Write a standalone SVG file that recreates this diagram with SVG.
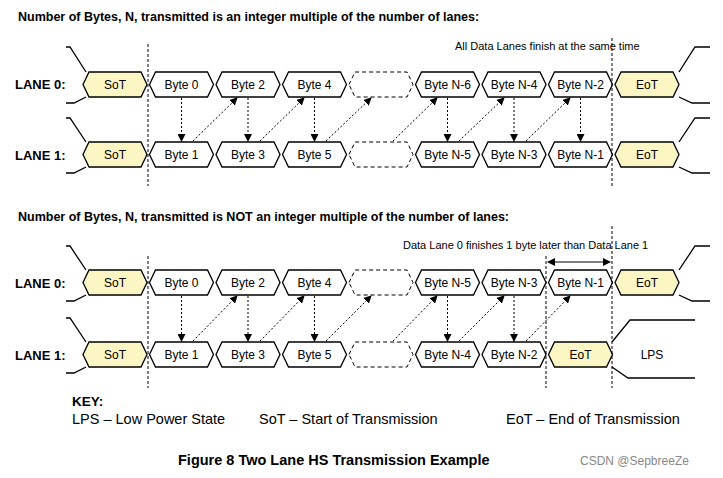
<svg xmlns="http://www.w3.org/2000/svg" width="723" height="478" viewBox="0 0 723 478">
<defs>
<style>
text{font-family:"Liberation Sans",Arial,sans-serif;font-size:12px;fill:#000}
.b{font-weight:bold}
.c{text-anchor:middle}
.box{fill:#fff;stroke:#000;stroke-width:1.3}
.y{fill:#fbf6c4}
.dsh{fill:#fff;stroke:#000;stroke-width:1;stroke-dasharray:4,3}
.ln{fill:none;stroke:#000;stroke-width:1.3}
.dv{stroke:#000;stroke-width:1;stroke-dasharray:3,2;fill:none}
.ar{stroke:#000;stroke-width:1;stroke-dasharray:2,2;fill:none;marker-end:url(#ah)}
</style>
<marker id="ah" markerWidth="8" markerHeight="8" refX="7" refY="4" orient="auto" markerUnits="userSpaceOnUse"><path d="M0,0L8,4L0,8z" fill="#000"/></marker>
<marker id="ah2" markerWidth="8" markerHeight="8" refX="7" refY="4" orient="auto-start-reverse" markerUnits="userSpaceOnUse"><path d="M0,0L8,4L0,8z" fill="#000"/></marker>
</defs>
<text x="18" y="21" class="b" style="font-size:12.5px">Number of Bytes, N, transmitted is an integer multiple of the number of lanes:</text>
<text x="455" y="50" style="font-size:11px">All Data Lanes finish at the same time</text>
<text x="18" y="221" class="b" style="font-size:12.5px">Number of Bytes, N, transmitted is NOT an integer multiple of the number of lanes:</text>
<text x="403" y="249" style="font-size:11px">Data Lane 0 finishes 1 byte later than Data Lane 1</text>
<text x="15" y="89" class="b" style="font-size:13px">LANE 0:</text>
<text x="15" y="160" class="b" style="font-size:13px">LANE 1:</text>
<text x="15" y="288" class="b" style="font-size:13px">LANE 0:</text>
<text x="15" y="360" class="b" style="font-size:13px">LANE 1:</text>

<g id="lines">
<path class="ln" d="M66,47H70L86,72M86,97L74,103H66"/>
<path class="ln" d="M66,118H70L86,142M86,167L74,173H66"/>
<path class="ln" d="M679,72L695,47H710M679,97L692,103H710"/>
<path class="ln" d="M679,142L695,118H710M679,167L692,173H710"/>
<path class="ln" d="M66,246H70L86,270M86,295L74,301H66"/>
<path class="ln" d="M66,318H70L86,342M86,367L74,373H66"/>
<path class="ln" d="M679,270L695,246H710M679,295L692,301H710"/>
<path class="ln" d="M612,342L630,320H695M612,367L628,378H695"/>
</g>

<g id="top-lane0">
<g id="t0-sot"><path class="box y" d="M83,84.5L89,72H141L147,84.5L141,97H89Z"/><text x="115" y="89" class="c">SoT</text></g>
<g id="t0-b0"><path class="box" d="M149.5,84.5L155.5,72H207.5L213.5,84.5L207.5,97H155.5Z"/><text x="181.5" y="89" class="c">Byte 0</text></g>
<g id="t0-b2"><path class="box" d="M216,84.5L222,72H274L280,84.5L274,97H222Z"/><text x="248" y="89" class="c">Byte 2</text></g>
<g id="t0-b4"><path class="box" d="M282.5,84.5L288.5,72H340.5L346.5,84.5L340.5,97H288.5Z"/><text x="314.5" y="89" class="c">Byte 4</text></g>
<g id="t0-d"><path class="dsh" d="M349,84.5L355,72H407L413,84.5L407,97H355Z"/></g>
<g id="t0-n6"><path class="box" d="M415.5,84.5L421.5,72H473.5L479.5,84.5L473.5,97H421.5Z"/><text x="447.5" y="89" class="c">Byte N-6</text></g>
<g id="t0-n4"><path class="box" d="M482,84.5L488,72H540L546,84.5L540,97H488Z"/><text x="514" y="89" class="c">Byte N-4</text></g>
<g id="t0-n2"><path class="box" d="M548.5,84.5L554.5,72H606.5L612.5,84.5L606.5,97H554.5Z"/><text x="580.5" y="89" class="c">Byte N-2</text></g>
<g id="t0-eot"><path class="box y" d="M615,84.5L621,72H673L679,84.5L673,97H621Z"/><text x="647" y="89" class="c">EoT</text></g>
</g>

<g id="top-lane1">
<g id="t1-sot"><path class="box y" d="M83,154.5L89,142H141L147,154.5L141,167H89Z"/><text x="115" y="159" class="c">SoT</text></g>
<g id="t1-b1"><path class="box" d="M149.5,154.5L155.5,142H207.5L213.5,154.5L207.5,167H155.5Z"/><text x="181.5" y="159" class="c">Byte 1</text></g>
<g id="t1-b3"><path class="box" d="M216,154.5L222,142H274L280,154.5L274,167H222Z"/><text x="248" y="159" class="c">Byte 3</text></g>
<g id="t1-b5"><path class="box" d="M282.5,154.5L288.5,142H340.5L346.5,154.5L340.5,167H288.5Z"/><text x="314.5" y="159" class="c">Byte 5</text></g>
<g id="t1-d"><path class="dsh" d="M349,154.5L355,142H407L413,154.5L407,167H355Z"/></g>
<g id="t1-n5"><path class="box" d="M415.5,154.5L421.5,142H473.5L479.5,154.5L473.5,167H421.5Z"/><text x="447.5" y="159" class="c">Byte N-5</text></g>
<g id="t1-n3"><path class="box" d="M482,154.5L488,142H540L546,154.5L540,167H488Z"/><text x="514" y="159" class="c">Byte N-3</text></g>
<g id="t1-n1"><path class="box" d="M548.5,154.5L554.5,142H606.5L612.5,154.5L606.5,167H554.5Z"/><text x="580.5" y="159" class="c">Byte N-1</text></g>
<g id="t1-eot"><path class="box y" d="M615,154.5L621,142H673L679,154.5L673,167H621Z"/><text x="647" y="159" class="c">EoT</text></g>
</g>

<g id="bot-lane0">
<g id="b0-sot"><path class="box y" d="M83,282.5L89,270H141L147,282.5L141,295H89Z"/><text x="115" y="287" class="c">SoT</text></g>
<g id="b0-b0"><path class="box" d="M149.5,282.5L155.5,270H207.5L213.5,282.5L207.5,295H155.5Z"/><text x="181.5" y="287" class="c">Byte 0</text></g>
<g id="b0-b2"><path class="box" d="M216,282.5L222,270H274L280,282.5L274,295H222Z"/><text x="248" y="287" class="c">Byte 2</text></g>
<g id="b0-b4"><path class="box" d="M282.5,282.5L288.5,270H340.5L346.5,282.5L340.5,295H288.5Z"/><text x="314.5" y="287" class="c">Byte 4</text></g>
<g id="b0-d"><path class="dsh" d="M349,282.5L355,270H407L413,282.5L407,295H355Z"/></g>
<g id="b0-n5"><path class="box" d="M415.5,282.5L421.5,270H473.5L479.5,282.5L473.5,295H421.5Z"/><text x="447.5" y="287" class="c">Byte N-5</text></g>
<g id="b0-n3"><path class="box" d="M482,282.5L488,270H540L546,282.5L540,295H488Z"/><text x="514" y="287" class="c">Byte N-3</text></g>
<g id="b0-n1"><path class="box" d="M548.5,282.5L554.5,270H606.5L612.5,282.5L606.5,295H554.5Z"/><text x="580.5" y="287" class="c">Byte N-1</text></g>
<g id="b0-eot"><path class="box y" d="M615,282.5L621,270H673L679,282.5L673,295H621Z"/><text x="647" y="287" class="c">EoT</text></g>
</g>

<g id="bot-lane1">
<g id="b1-sot"><path class="box y" d="M83,354.5L89,342H141L147,354.5L141,367H89Z"/><text x="115" y="359" class="c">SoT</text></g>
<g id="b1-b1"><path class="box" d="M149.5,354.5L155.5,342H207.5L213.5,354.5L207.5,367H155.5Z"/><text x="181.5" y="359" class="c">Byte 1</text></g>
<g id="b1-b3"><path class="box" d="M216,354.5L222,342H274L280,354.5L274,367H222Z"/><text x="248" y="359" class="c">Byte 3</text></g>
<g id="b1-b5"><path class="box" d="M282.5,354.5L288.5,342H340.5L346.5,354.5L340.5,367H288.5Z"/><text x="314.5" y="359" class="c">Byte 5</text></g>
<g id="b1-d"><path class="dsh" d="M349,354.5L355,342H407L413,354.5L407,367H355Z"/></g>
<g id="b1-n4"><path class="box" d="M415.5,354.5L421.5,342H473.5L479.5,354.5L473.5,367H421.5Z"/><text x="447.5" y="359" class="c">Byte N-4</text></g>
<g id="b1-n2"><path class="box" d="M482,354.5L488,342H540L546,354.5L540,367H488Z"/><text x="514" y="359" class="c">Byte N-2</text></g>
<g id="b1-eot"><path class="box y" d="M548.5,354.5L554.5,342H606.5L612.5,354.5L606.5,367H554.5Z"/><text x="580.5" y="359" class="c">EoT</text></g>
<g id="b1-lps"><text x="652" y="359" class="c">LPS</text></g>
</g>

<g id="connectors">
<path class="dv" d="M148,44V186M612,38V186M148,256V388M546,256V388M612,226V388"/>
<path d="M548,262H610" stroke="#000" stroke-width="1" marker-start="url(#ah2)" marker-end="url(#ah2)"/>
<path class="ar" d="M181.5,98V141"/><path class="ar" d="M248,98V141"/><path class="ar" d="M314.5,98V141"/>
<path class="ar" d="M447.5,98V141"/><path class="ar" d="M514,98V141"/><path class="ar" d="M580.5,98V141"/>
<path class="ar" d="M193,141L237,98"/><path class="ar" d="M260,141L304,98"/><path class="ar" d="M326,141L371,98"/>
<path class="ar" d="M393,141L437,98"/><path class="ar" d="M459,141L504,98"/><path class="ar" d="M526,141L570,98"/>
<path class="ar" d="M181.5,296V341"/><path class="ar" d="M248,296V341"/><path class="ar" d="M314.5,296V341"/>
<path class="ar" d="M447.5,296V341"/><path class="ar" d="M514,296V341"/>
<path class="ar" d="M193,341L237,296"/><path class="ar" d="M260,341L304,296"/><path class="ar" d="M326,341L371,296"/>
<path class="ar" d="M393,341L437,296"/><path class="ar" d="M459,341L504,296"/><path class="ar" d="M526,341L570,296"/>
</g>

<text x="72" y="406" class="b" style="font-size:13.5px">KEY:</text>
<text x="72" y="424" style="font-size:14.5px">LPS – Low Power State</text>
<text x="259" y="424" style="font-size:14.5px">SoT – Start of Transmission</text>
<text x="506" y="424" style="font-size:14.5px">EoT – End of Transmission</text>
<text x="178" y="465" class="b" style="font-size:14.5px">Figure 8 Two Lane HS Transmission Example</text>
<text x="580" y="465" style="font-size:12px;fill:#888">CSDN @SepbreeZe</text>
</svg>
